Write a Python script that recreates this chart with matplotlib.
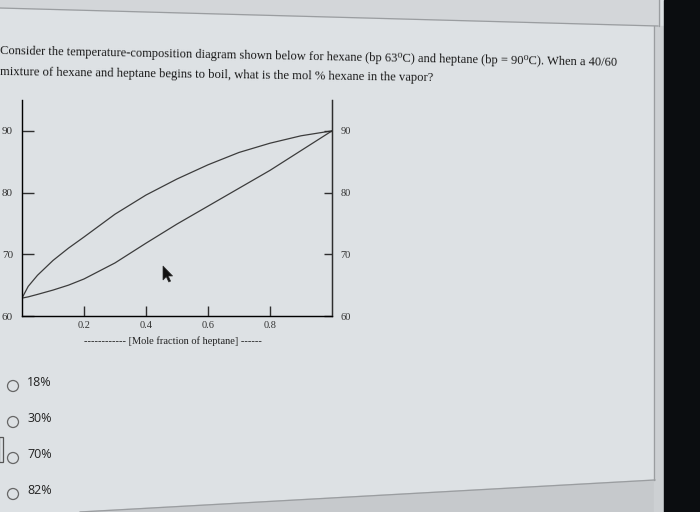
import matplotlib
matplotlib.use("Agg")
import matplotlib.pyplot as plt
from matplotlib.lines import Line2D
from matplotlib.patches import Ellipse, Polygon, Rectangle

# ── Data ──────────────────────────────────────────────────────────────────
mole_frac_heptane = [0.0, 0.02, 0.05, 0.1, 0.15, 0.2, 0.3, 0.4, 0.5, 0.6, 0.7, 0.8, 0.9, 1.0]
boiling_T = [62.9, 63.1, 63.5, 64.2, 65.0, 66.0, 68.6, 71.8, 74.9, 77.8, 80.7, 83.6, 86.8, 90.0]
vapour_T = [62.9, 64.8, 66.6, 69.0, 71.0, 72.8, 76.5, 79.6, 82.2, 84.5, 86.5, 88.0, 89.2, 90.0]

x_ticks = [0.2, 0.4, 0.6, 0.8]
x_tick_labels = ["0.2", "0.4", "0.6", "0.8"]
y_ticks = [60, 70, 80, 90]

question_lines = [
    "Consider the temperature-composition diagram shown below for hexane (bp 63\u2070C) "
    "and heptane (bp = 90\u2070C). When a 40/60",
    "mixture of hexane and heptane begins to boil, what is the mol % hexane in the vapor?",
]
answer_options = ["18%", "30%", "70%", "82%"]

# ── Palette ───────────────────────────────────────────────────────────────
BG = "#dde1e4"
TOP_BG = "#d3d6d9"
LOW_BG = "#c6c9cc"
DARK = "#0b0d10"
INK = "#1a1a1a"
CURVE = "#3c3c3c"
SERIF = ["Liberation Serif", "DejaVu Serif", "DejaVu Sans"]

W, H = 700, 512


def px(x, y):
    """pixel (y down) -> figure fraction"""
    return x / W, 1 - y / H


fig = plt.figure(figsize=(W / 100, H / 100), dpi=100, facecolor=BG)

# ── Screen frame decoration ───────────────────────────────────────────────
tr = fig.transFigure
fig.patches.append(Polygon([px(0, 0), px(660, 0), px(660, 26), px(0, 8)],
                           closed=True, transform=tr, color=TOP_BG, zorder=0))
fig.patches.append(Polygon([px(80, 512), px(655, 480), px(665, 480), px(665, 512)],
                           closed=True, transform=tr, color=LOW_BG, zorder=0))
fig.patches.append(Rectangle(px(654, 512), 11 / W, 486 / H, transform=tr,
                             color="#cdd0d3", zorder=0))
fig.patches.append(Rectangle(px(664, 512), 36 / W, 1, transform=tr,
                             color=DARK, zorder=0))
for (x0, y0), (x1, y1) in [((0, 8), (658, 26)), ((654, 26), (654, 480)),
                           ((80, 512), (655, 480)), ((659, 0), (659, 26))]:
    fig.lines.append(Line2D([x0 / W, x1 / W], [1 - y0 / H, 1 - y1 / H],
                            transform=tr, color="#9a9da0", lw=0.9))
fig.patches.append(Rectangle(px(-1, 462), 4 / W, 25 / H, transform=tr,
                             fill=False, ec="#555", lw=0.9))

# ── Question text ─────────────────────────────────────────────────────────
q1 = fig.text(*px(0.5, 51), question_lines[0], family=SERIF, fontsize=9,
              color=INK, va="center", ha="left", rotation=-1.1,
              rotation_mode="anchor")
q2 = fig.text(*px(0.5, 72), question_lines[1], family=SERIF, fontsize=9,
              color=INK, va="center", ha="left", rotation=-0.8,
              rotation_mode="anchor")
fig.canvas.draw()
rend = fig.canvas.get_renderer()
for txt, target in [(q1, 616), (q2, 432)]:
    w = txt.get_window_extent(rend).width
    txt.set_fontsize(txt.get_fontsize() * target / w)

# ── Phase diagram ─────────────────────────────────────────────────────────
ax = fig.add_axes([22 / W, 1 - 316 / H, 310 / W, 216 / H])
ax.set_facecolor("none")
ax.plot(mole_frac_heptane, boiling_T, color=CURVE, lw=0.9)
ax.plot(mole_frac_heptane, vapour_T, color=CURVE, lw=0.9)
ax.set_xlim(0, 1)
ax.set_ylim(60, 95)
ax.spines["top"].set_visible(False)
for s in ("left", "bottom", "right"):
    ax.spines[s].set_color("#2e2e2e")
    ax.spines[s].set_linewidth(1.0)

ax.set_xticks(x_ticks)
ax.set_xticklabels(x_tick_labels, family=SERIF, fontsize=7.5, color="#333")
ax.set_yticks(y_ticks)
ax.set_yticklabels([str(v) for v in y_ticks], family=SERIF, fontsize=8,
                   color="#333")
ax.tick_params(axis="x", direction="in", length=7.5, width=1, pad=3.5,
               color="#2e2e2e")
ax.tick_params(axis="y", direction="in", length=8.5, width=1, pad=6.5,
               color="#2e2e2e")

axr = ax.twinx()
axr.set_ylim(ax.get_ylim())
axr.set_yticks(y_ticks)
axr.set_yticklabels([str(v) for v in y_ticks], family=SERIF, fontsize=7.5,
                    color="#333")
axr.tick_params(axis="y", direction="in", length=5.8, width=1, pad=6,
                color="#2e2e2e")
axr.spines["top"].set_visible(False)
axr.spines["right"].set_color("#2e2e2e")

ax.set_xlabel("------------ [Mole fraction of heptane] ------", family=SERIF,
              fontsize=7.5, color="#222")
ax.xaxis.set_label_coords((173 - 22) / 310, -(336 - 316) / 216)

# mouse pointer
tip_x, tip_y = 163, 266
shape = [(0, 0), (0, 14), (3.3, 10.8), (5.8, 16), (7.6, 15.1), (5.2, 10), (9.6, 10)]
fig.patches.append(Polygon([px(tip_x + dx, tip_y + dy) for dx, dy in shape],
                           closed=True, transform=tr, fc="#111", ec="#333",
                           lw=0.5, zorder=5))

# ── Answer options ────────────────────────────────────────────────────────
opt_y = [386, 422, 458, 494]
for label, yy in zip(answer_options, opt_y):
    fig.patches.append(Ellipse(px(13, yy), 11 / W, 11 / H, transform=tr,
                               fill=False, ec="#666", lw=0.9))
    fig.text(*px(27, yy - 3), label, family="Open Sans", fontsize=9,
             color="#222", va="center", ha="left")

fig.savefig("out.png", dpi=100, facecolor=BG)
